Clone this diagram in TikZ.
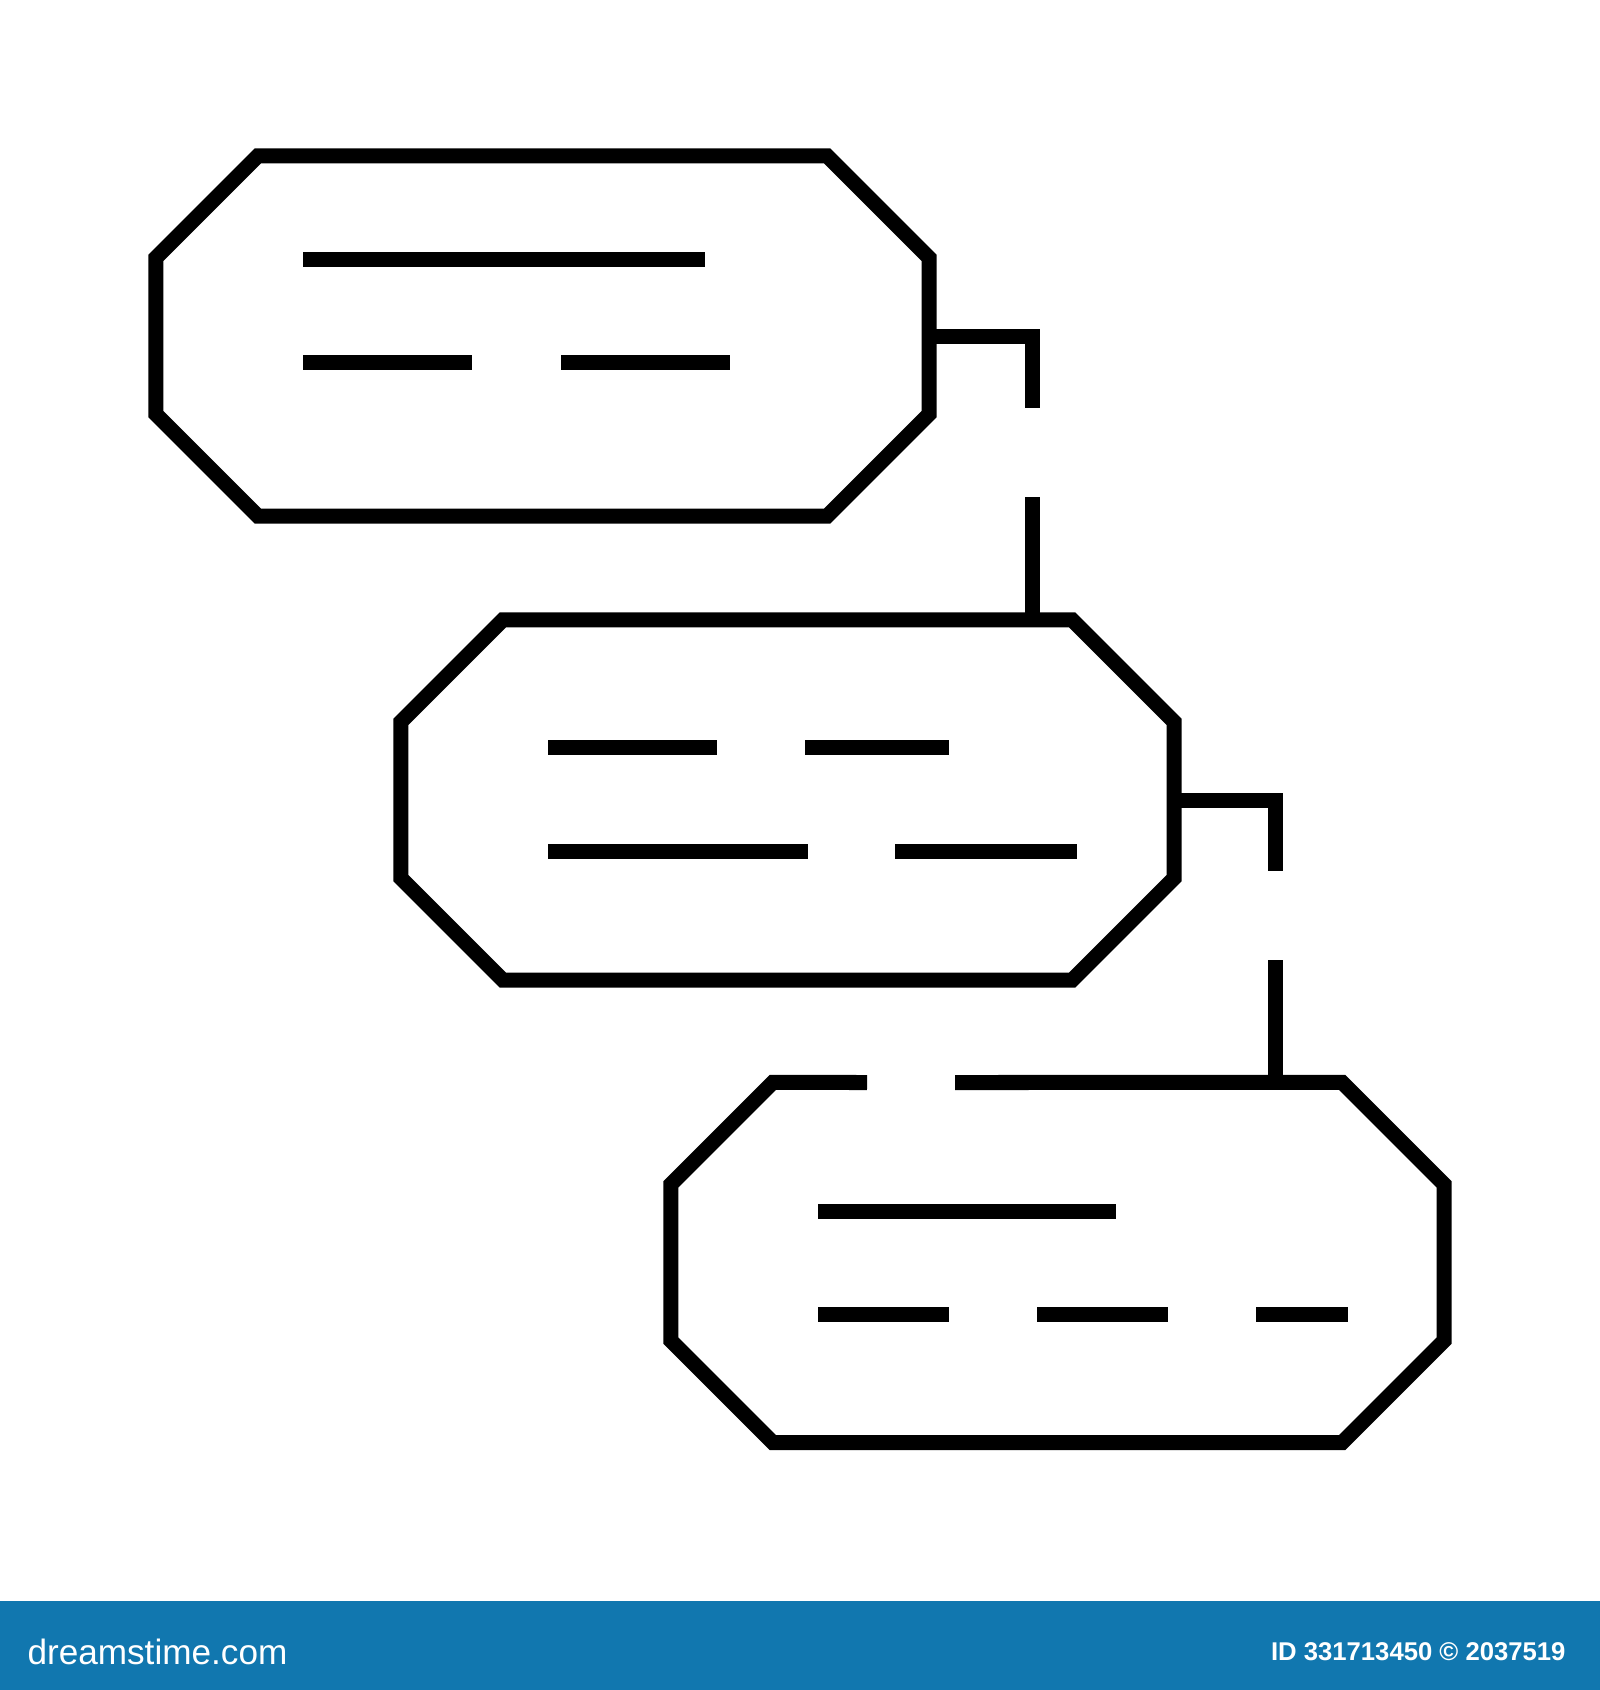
\documentclass[tikz,border=0pt]{standalone}
\usepackage{fontspec}
\setsansfont{Liberation Sans}
\usetikzlibrary{calc}
\definecolor{stockblue}{RGB}{17,119,175}
\tikzstyle{every path}=[line width=0.15cm,line cap=butt,line join=miter]
\tikzstyle{box}=[inner sep=0pt,outer sep=0pt,minimum width=7.73cm,minimum height=3.6cm]
\tikzstyle{stamp}=[inner sep=0pt,text=white,font=\sffamily]

% outline with cut corners around a box node
\newcommand{\cutbox}[1]{%
  \draw ($(#1.north west)+(102,0)$) -- ($(#1.north east)+(-102,0)$)
    -- ($(#1.north east)+(0,102)$) -- ($(#1.south east)+(0,-102)$)
    -- ($(#1.south east)+(-102,0)$) -- ($(#1.south west)+(102,0)$)
    -- ($(#1.south west)+(0,-102)$) -- ($(#1.north west)+(0,102)$) -- cycle;}

\begin{document}
\begin{tikzpicture}[x=0.01cm,y=-0.01cm]
  \useasboundingbox (0,0) rectangle (1600,1690);
  % boxes
  \node[box] (b1) at (542.5,336) {};
  \node[box] (b2) at (787.5,800) {};
  \node[box] (b3) at (1057.5,1262.5) {};
  \cutbox{b1}
  \cutbox{b2}
  % last box, open at the top
  \draw (867,1082.5) -- ($(b3.north west)+(102,0)$)
    -- ($(b3.north west)+(0,102)$) -- ($(b3.south west)+(0,-102)$)
    -- ($(b3.south west)+(102,0)$) -- ($(b3.south east)+(-102,0)$)
    -- ($(b3.south east)+(0,-102)$) -- ($(b3.north east)+(0,102)$)
    -- ($(b3.north east)+(-102,0)$) -- (955,1082.5);
  % text bars
  \foreach \xa/\xb/\yy in {303/705/259, 303/472/362, 561/730/362,
      548/717/747, 805/949/747, 548/808/851, 895/1077/851,
      818/1116/1211, 818/949/1314, 1037/1168/1314, 1256/1348/1314}
    \draw (\xa,\yy) -- (\xb,\yy);
  % links
  \coordinate (g1a) at (1032,408);
  \coordinate (g1b) at (1032,497);
  \coordinate (g2a) at (1275,871);
  \coordinate (g2b) at (1275,960);
  \draw (b1.east) -| (g1a);
  \draw (g1b) -- (g1b |- b2.north);
  \draw (b2.east) -| (g2a);
  \draw (g2b) -- (g2b |- b3.north);
  % footer
  \fill[stockblue] (0,1601) rectangle (1600,1690);
  \node[stamp,anchor=west,font=\sffamily\fontsize{10}{10}\selectfont] (logo) at (20,1652) {dreamstime.com};
  \node[stamp,anchor=east,font=\sffamily\bfseries\fontsize{7.3}{7.3}\selectfont] (stockid) at (1573,1652) {ID 331713450 © 2037519};
\end{tikzpicture}
\end{document}
